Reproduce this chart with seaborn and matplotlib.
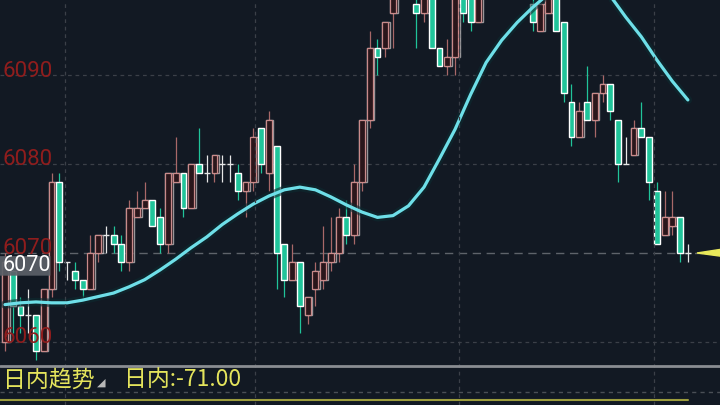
import numpy as np
import pandas as pd
import seaborn as sns
import matplotlib.pyplot as plt
import matplotlib.transforms as mtransforms
from matplotlib.lines import Line2D
from matplotlib.patches import Polygon, FancyBboxPatch

sns.set_theme(style="dark")
plt.rcParams['font.family'] = ['Noto Sans CJK SC', 'DejaVu Sans']

# K线数据 (开, 高, 低, 收)
opens = [6060, 6068, 6064, 6063, 6063, 6059, 6066, 6078, 6069, 6068,
         6067, 6066, 6070, 6072, 6072, 6071, 6069, 6074, 6075, 6076,
         6074, 6071, 6078, 6079, 6075, 6080, 6079, 6079, 6080, 6080,
         6079, 6077, 6078, 6084, 6079, 6082, 6071, 6067, 6069, 6063,
         6066, 6067, 6069, 6070, 6074, 6072, 6078, 6085, 6093, 6093,
         6097, 6100, 6102, 6098, 6097, 6100, 6093, 6091, 6092, 6100,
         6100, 6096, 6100, 6103, 6105, 6103, 6106, 6104, 6098, 6095,
         6097, 6100, 6096, 6087, 6083, 6087, 6085, 6088, 6089, 6085,
         6080, 6081, 6084, 6083, 6077, 6072, 6073, 6074, 6070]
highs = [6070, 6069, 6065, 6066, 6063, 6066, 6079, 6079, 6069, 6069,
         6067, 6072, 6072, 6073, 6073, 6072, 6076, 6077, 6078, 6076,
         6075, 6079, 6083, 6079, 6080, 6084, 6081, 6081, 6081, 6081,
         6080, 6078, 6084, 6084, 6086, 6082, 6071, 6071, 6069, 6065,
         6069, 6073, 6074, 6075, 6076, 6080, 6085, 6095, 6094, 6096,
         6101, 6103, 6103, 6099, 6101, 6101, 6093, 6094, 6101, 6101,
         6101, 6101, 6104, 6106, 6106, 6107, 6107, 6105, 6101, 6098,
         6101, 6101, 6096, 6089, 6087, 6091, 6088, 6090, 6089, 6085,
         6083, 6085, 6087, 6083, 6078, 6077, 6077, 6074, 6071]
lows = [6059, 6061, 6061, 6061, 6058, 6059, 6065, 6068, 6067, 6066,
        6065, 6066, 6069, 6070, 6070, 6068, 6068, 6074, 6075, 6073,
        6070, 6070, 6078, 6074, 6075, 6079, 6078, 6078, 6078, 6078,
        6076, 6074, 6077, 6079, 6077, 6066, 6065, 6067, 6061, 6062,
        6064, 6066, 6068, 6069, 6071, 6071, 6077, 6084, 6090, 6092,
        6093, 6099, 6099, 6093, 6096, 6093, 6091, 6090, 6090, 6096,
        6095, 6096, 6099, 6102, 6102, 6102, 6103, 6099, 6095, 6095,
        6097, 6095, 6087, 6082, 6083, 6085, 6083, 6087, 6085, 6078,
        6080, 6081, 6083, 6076, 6071, 6072, 6072, 6069, 6069]
closes = [6069, 6064, 6063, 6063, 6059, 6066, 6078, 6069, 6069, 6067,
          6066, 6070, 6072, 6072, 6071, 6069, 6075, 6075, 6076, 6073,
          6071, 6079, 6079, 6075, 6080, 6079, 6079, 6081, 6080, 6080,
          6077, 6078, 6083, 6080, 6085, 6070, 6067, 6069, 6064, 6065,
          6068, 6069, 6070, 6074, 6072, 6078, 6085, 6093, 6092, 6096,
          6100, 6102, 6100, 6097, 6100, 6093, 6091, 6092, 6099, 6097,
          6096, 6100, 6103, 6105, 6103, 6106, 6104, 6101, 6096, 6098,
          6100, 6095, 6088, 6083, 6086, 6085, 6088, 6089, 6086, 6080,
          6080, 6084, 6083, 6078, 6071, 6074, 6074, 6070, 6070]

# 均线 (读图估计, 每两根K线一个点)
ma_idx = list(range(0, 89, 2))
ma_val = [6064.2, 6064.4, 6064.5, 6064.4, 6064.4, 6064.7, 6065.1, 6065.5,
          6066.2, 6067.0, 6068.1, 6069.3, 6070.6, 6071.8, 6073.2, 6074.4,
          6075.5, 6076.4, 6077.1, 6077.4, 6077.1, 6076.3, 6075.4, 6074.6,
          6074.0, 6074.2, 6075.3, 6077.4, 6080.6, 6083.9, 6087.8, 6091.4,
          6093.9, 6095.9, 6097.6, 6099.1, 6100.1, 6100.7, 6100.3, 6098.9,
          6096.5, 6094.3, 6091.7, 6089.3, 6087.2]

price_ticks = [6090, 6080, 6070, 6060]
time_grid = [7.7, 32.2, 58.5, 83.6]
last_price = 6070
trend_name = "日内趋势"
trend_text = "日内:-71.00"

bg = '#121923'
up_edge = '#c98a8a'
up_fill = '#2a161b'
down_col = '#20c49a'
grid_col = '#3b4048'

fig = plt.figure(figsize=(7.2, 4.05), dpi=100, facecolor=bg)
ax = fig.add_axes([0, 39 / 405, 1, 366 / 405])
ax.set_facecolor(bg)
ax.set_xlim(-0.64, 92.14)
ax.set_ylim(6057.3, 6098.43)
ax.axis('off')

# 网格
for p in price_ticks:
    if p == last_price:
        ax.axhline(p, color='#5e636a', lw=1.0, dashes=(6, 4), zorder=1)
    else:
        ax.axhline(p, color=grid_col, lw=0.9, dashes=(3, 3), zorder=1)
vtrans = mtransforms.blended_transform_factory(ax.transData, fig.transFigure)
for t in time_grid:
    fig.add_artist(Line2D([t, t], [0, 1], transform=vtrans, color=grid_col,
                          lw=0.9, dashes=(3, 3), zorder=1))

# K线
df = pd.DataFrame({'o': opens, 'h': highs, 'l': lows, 'c': closes})
df['i'] = np.arange(len(df))
w = 0.76
for _, r in df.iterrows():
    i, o, h, l, c = r['i'], r['o'], r['h'], r['l'], r['c']
    if c > o:
        ax.vlines(i, l, h, color='#a86868', lw=0.9, zorder=2)
        ax.bar(i + 0.12, c - o, bottom=o, width=w + 0.2, color='#3a1418',
               alpha=0.55, zorder=2)
        ax.bar(i, c - o, bottom=o, width=w, facecolor=up_fill,
               edgecolor=up_edge, linewidth=0.9, zorder=3)
    elif c < o:
        ax.vlines(i, l, h, color=down_col, lw=0.9, zorder=2)
        ax.bar(i, o - c, bottom=c, width=w, color=down_col, zorder=3)
    else:
        ax.vlines(i, l, h, color='#e6e6e6', lw=0.9, zorder=2)
        ax.hlines(o, i - w / 2, i + w / 2, color='#e6e6e6', lw=1.0, zorder=3)

# 均线
sns.lineplot(x=ma_idx, y=ma_val, ax=ax, color='#0c2a30', lw=6, alpha=0.6, zorder=4)
sns.lineplot(x=ma_idx, y=ma_val, ax=ax, color='#6edfe8', lw=2.3, zorder=5)

# 价格标签
ytrans = ax.get_yaxis_transform()
for p in price_ticks:
    ax.text(0.003, p + 0.45, str(p), transform=ytrans, ha='left', va='center',
            fontsize=16, color='#8f1d1d', family=['Roboto', 'DejaVu Sans'], zorder=6)

box = FancyBboxPatch((0.0, last_price - 2.55), 0.07, 2.2, transform=ytrans,
                     boxstyle='round,pad=0,rounding_size=0.006',
                     facecolor='#5b6068', edgecolor='none', alpha=0.92, zorder=7)
ax.add_patch(box)
ax.text(0.003, last_price - 1.45, str(last_price), transform=ytrans, ha='left',
        va='center', fontsize=15.5, color='white',
        family=['Roboto', 'DejaVu Sans'], zorder=8)

# 右侧箭头
ax.add_patch(Polygon([(0.968, last_price), (1.0, last_price + 0.4),
                      (1.0, last_price - 0.35)], closed=True, transform=ytrans,
                     color='#e8e85a', zorder=6))

# 底部指标栏
fig.add_artist(Line2D([0, 1], [1 - 366 / 405] * 2, transform=fig.transFigure,
                      color='#8a8d92', lw=2))
fig.add_artist(Line2D([0, 1], [1 - 392 / 405] * 2, transform=fig.transFigure,
                      color='#4a4f56', lw=1, dashes=(3, 3)))
fig.add_artist(Line2D([0, 688 / 720], [1 - 400 / 405] * 2, transform=fig.transFigure,
                      color='#9c9c3c', lw=1.5))
fig.text(0.004, 1 - 380 / 405, trend_name, fontsize=16.5, color='#e4e45c',
         ha='left', va='center')
fig.text(0.134, 1 - 383 / 405, '◢', fontsize=8, color='#b8b8b8',
         ha='left', va='center', family='DejaVu Sans')
fig.text(0.172, 1 - 380 / 405, trend_text, fontsize=16.5, color='#e4e45c',
         ha='left', va='center')

fig.savefig('out.png', dpi=100, facecolor=bg)
